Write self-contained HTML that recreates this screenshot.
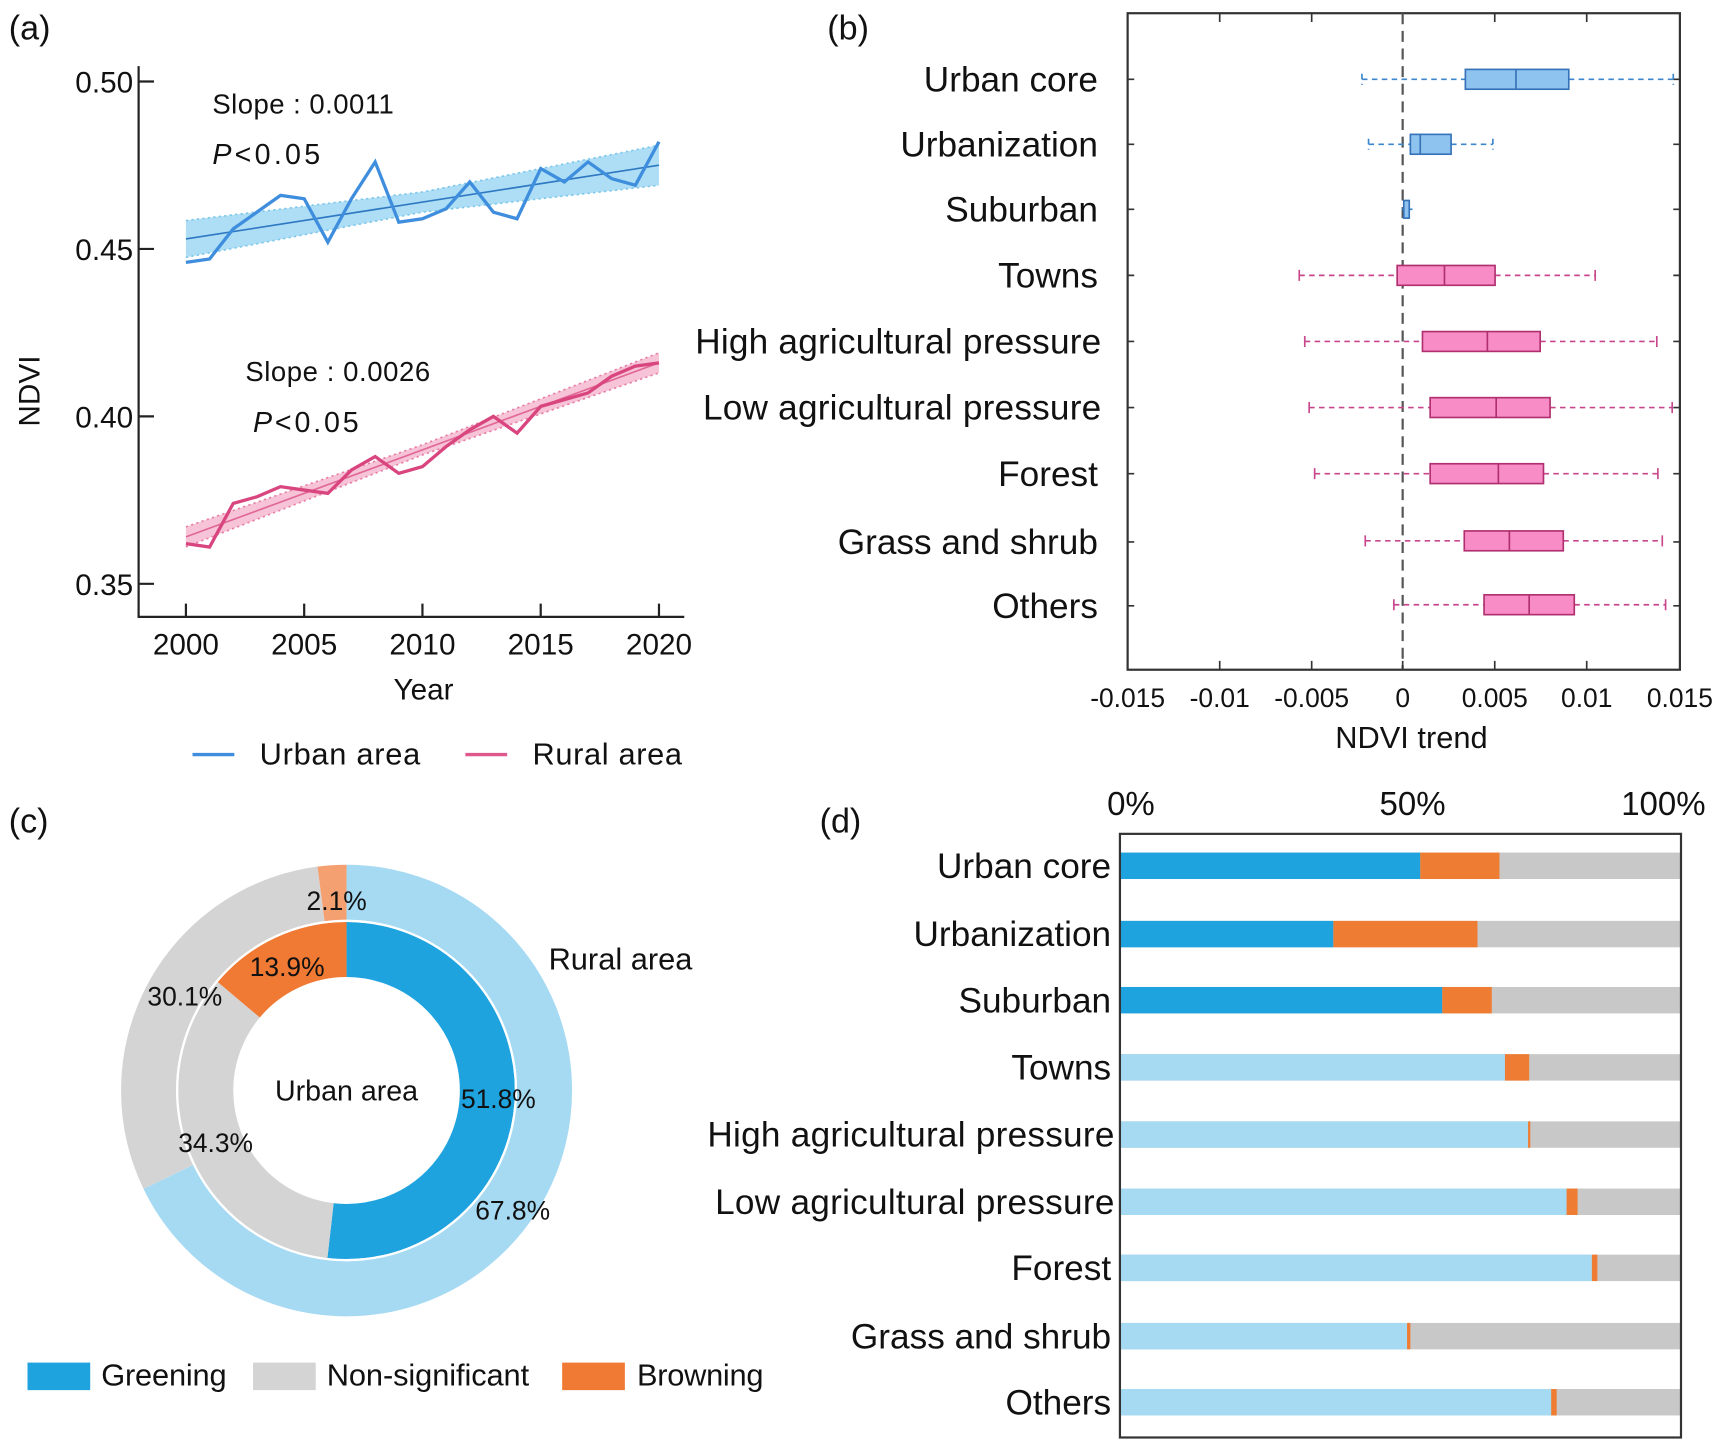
<!DOCTYPE html>
<html><head><meta charset="utf-8"><style>
html,body{margin:0;padding:0;background:#fff}
svg{display:block}
text{font-family:"Liberation Sans",Arial,sans-serif;fill:#111}
</style></head><body>
<svg width="1725" height="1443" viewBox="0 0 1568 1310" preserveAspectRatio="none" xmlns="http://www.w3.org/2000/svg">
<text x="8" y="36" font-size="31">(a)</text>
<text x="752" y="36" font-size="31">(b)</text>
<text x="8" y="756" font-size="31">(c)</text>
<text x="745" y="756" font-size="31">(d)</text>

<g stroke="#222" stroke-width="2" fill="none">
<path d="M126 60 V560 H622"/>
<path d="M126 74 h14 M126 226 h14 M126 378 h14 M126 530 h14"/>
<path d="M169 560 v-12 M276.5 560 v-12 M384 560 v-12 M491.5 560 v-12 M599 560 v-12"/>
</g>
<g font-size="27" text-anchor="end">
<text x="121" y="84">0.50</text><text x="121" y="236">0.45</text><text x="121" y="388">0.40</text><text x="121" y="540">0.35</text>
</g>
<g font-size="27" text-anchor="middle">
<text x="169" y="594">2000</text><text x="276.5" y="594">2005</text><text x="384" y="594">2010</text><text x="491.5" y="594">2015</text><text x="599" y="594">2020</text>
<text x="385" y="635">Year</text>
</g>
<text x="36" y="355" font-size="27" text-anchor="middle" transform="rotate(-90 36 355)">NDVI</text>
<polygon points="169,200.2 384,174.3 599,131.8 599,168.2 384,192.6 169,233.6" fill="#9fd8f3" opacity="0.85"/>
<polyline points="169,200.2 384,174.3 599,131.8" fill="none" stroke="#7cc6ea" stroke-width="1.5" stroke-dasharray="2 3"/>
<polyline points="169,233.6 384,192.6 599,168.2" fill="none" stroke="#7cc6ea" stroke-width="1.5" stroke-dasharray="2 3"/>
<line x1="169" y1="216.9" x2="599" y2="150" stroke="#2f78c2" stroke-width="1.5"/>
<polyline fill="none" stroke="#3f8ede" stroke-width="3" points="169,238.2 190.5,235.1 212,207.8 233.5,192.6 255,177.4 276.5,180.4 298,219.9 319.5,180.4 341,147 362.5,201.7 384,198.6 405.5,189.5 427,165.2 448.5,192.6 470,198.6 491.5,153 513,165.2 534.5,147 556,162.2 577.5,168.2 599,128.7"/>
<polygon points="169,478.3 384,403.8 599,320.3 599,338.5 384,413 169,496.5" fill="#f6b8cf" opacity="0.85"/>
<polyline points="169,478.3 384,403.8 599,320.3" fill="none" stroke="#e77fa6" stroke-width="1.5" stroke-dasharray="2 3"/>
<polyline points="169,496.5 384,413 599,338.5" fill="none" stroke="#e77fa6" stroke-width="1.5" stroke-dasharray="2 3"/>
<line x1="169" y1="487.4" x2="599" y2="329.4" stroke="#e06896" stroke-width="1.5"/>
<polyline fill="none" stroke="#d9457f" stroke-width="3" points="169,493.5 190.5,496.6 212,457 233.5,451 255,441.8 276.5,444.9 298,447.9 319.5,426.6 341,414.5 362.5,429.7 384,423.6 405.5,405.4 427,390.2 448.5,378 470,393.2 491.5,368.9 513,362.8 534.5,356.7 556,341.5 577.5,332.4 599,329.4"/>
<text x="193" y="103" font-size="25" textLength="165">Slope : 0.0011</text>
<text x="193" y="149" font-size="26" textLength="98"><tspan font-style="italic">P</tspan>&lt;0.05</text>
<text x="223" y="346" font-size="25" textLength="168">Slope : 0.0026</text>
<text x="230" y="392" font-size="26" textLength="96"><tspan font-style="italic">P</tspan>&lt;0.05</text>
<line x1="175" y1="685" x2="213" y2="685" stroke="#3f8ede" stroke-width="3"/>
<text x="236" y="694" font-size="28" textLength="146">Urban area</text>
<line x1="423" y1="685" x2="461" y2="685" stroke="#e0578e" stroke-width="3"/>
<text x="484" y="694" font-size="28" textLength="136">Rural area</text>

<rect x="1025" y="12" width="502" height="596" fill="none" stroke="#333" stroke-width="2"/>
<line x1="1275" y1="12" x2="1275" y2="608" stroke="#555" stroke-width="2" stroke-dasharray="10 6"/>
<g stroke="#333" stroke-width="1.5">
<path d="M1025 608 v-8 M1108.7 608 v-8 M1192.3 608 v-8 M1275 608 v-8 M1358.7 608 v-8 M1442.3 608 v-8 M1527 608 v-8"/>
<path d="M1025 72 h6 M1025 131 h6 M1025 190 h6 M1025 250 h6 M1025 310 h6 M1025 370 h6 M1025 430 h6 M1025 492 h6 M1025 550 h6"/>
<path d="M1527 72 h-6 M1527 131 h-6 M1527 190 h-6 M1527 250 h-6 M1527 310 h-6 M1527 370 h-6 M1527 430 h-6 M1527 492 h-6 M1527 550 h-6"/>
<path d="M1108.7 12 v8 M1192.3 12 v8 M1358.7 12 v8 M1442.3 12 v8"/>
</g>
<g font-size="24" text-anchor="middle">
<text x="1025" y="642">-0.015</text><text x="1108.7" y="642">-0.01</text><text x="1192.3" y="642">-0.005</text><text x="1275" y="642">0</text><text x="1358.7" y="642">0.005</text><text x="1442.3" y="642">0.01</text><text x="1527" y="642">0.015</text>
<text x="1283" y="679" font-size="28">NDVI trend</text>
</g>
<g font-size="32" text-anchor="end">
<text x="998" y="83">Urban core</text>
<text x="998" y="142">Urbanization</text>
<text x="998" y="201">Suburban</text>
<text x="998" y="261">Towns</text>
<text x="1001" y="321" textLength="369">High agricultural pressure</text>
<text x="1001" y="381" textLength="362">Low agricultural pressure</text>
<text x="998" y="441">Forest</text>
<text x="998" y="503">Grass and shrub</text>
<text x="998" y="561">Others</text>
</g>
<g stroke="#3b86cc" stroke-width="1.5" fill="none">
<path d="M1238 72 H1332 M1426 72 H1521 M1238 67 v10 M1521 67 v10" stroke-dasharray="5 4"/>
<path d="M1244 131 H1282 M1319 131 H1357 M1244 126 v10 M1357 126 v10" stroke-dasharray="5 4"/>
<path d="M1274 190 H1284"/>
</g>
<g stroke="#3672b8" stroke-width="1.5" fill="#8fc3ef">
<rect x="1332" y="63" width="94" height="18"/><line x1="1378" y1="63" x2="1378" y2="81"/>
<rect x="1282" y="122" width="37" height="18"/><line x1="1291" y1="122" x2="1291" y2="140"/>
<rect x="1276" y="182" width="5" height="16"/>
</g>
<g stroke="#c8478c" stroke-width="1.5" fill="none" stroke-dasharray="5 4">
<path d="M1181 250 H1270 M1359 250 H1450"/>
<path d="M1186 310 H1293 M1400 310 H1506"/>
<path d="M1190 370 H1300 M1409 370 H1520"/>
<path d="M1195 430 H1300 M1403 430 H1507"/>
<path d="M1241 491 H1331 M1421 491 H1511"/>
<path d="M1267 549 H1349 M1431 549 H1514"/>
</g>
<g stroke="#c8478c" stroke-width="1.5">
<path d="M1181 245 v10 M1450 245 v10 M1186 305 v10 M1506 305 v10 M1190 365 v10 M1520 365 v10 M1195 425 v10 M1507 425 v10 M1241 486 v10 M1511 486 v10 M1267 544 v10 M1514 544 v10"/>
</g>
<g stroke="#b0306f" stroke-width="1.5" fill="#f78cc6">
<rect x="1270" y="241" width="89" height="18"/><line x1="1313" y1="241" x2="1313" y2="259"/>
<rect x="1293" y="301" width="107" height="18"/><line x1="1352" y1="301" x2="1352" y2="319"/>
<rect x="1300" y="361" width="109" height="18"/><line x1="1360" y1="361" x2="1360" y2="379"/>
<rect x="1300" y="421" width="103" height="18"/><line x1="1362" y1="421" x2="1362" y2="439"/>
<rect x="1331" y="482" width="90" height="18"/><line x1="1372" y1="482" x2="1372" y2="500"/>
<rect x="1349" y="540" width="82" height="18"/><line x1="1390" y1="540" x2="1390" y2="558"/>
</g>

<g transform="rotate(-90 315 990)" fill="none">
<circle cx="315" cy="990" r="180" stroke="#a6daf3" stroke-width="50" stroke-dasharray="766.8 2000" stroke-dashoffset="0"/>
<circle cx="315" cy="990" r="180" stroke="#d4d4d4" stroke-width="50" stroke-dasharray="340.4 2000" stroke-dashoffset="-766.8"/>
<circle cx="315" cy="990" r="180" stroke="#f4a070" stroke-width="50" stroke-dasharray="23.8 2000" stroke-dashoffset="-1107.2"/>
<circle cx="315" cy="990" r="128" stroke="#1fa3df" stroke-width="50" stroke-dasharray="416.6 2000" stroke-dashoffset="0"/>
<circle cx="315" cy="990" r="128" stroke="#d4d4d4" stroke-width="50" stroke-dasharray="275.8 2000" stroke-dashoffset="-416.6"/>
<circle cx="315" cy="990" r="128" stroke="#f07a33" stroke-width="50" stroke-dasharray="111.8 2000" stroke-dashoffset="-692.4"/>
</g>
<circle cx="315" cy="990" r="154" fill="none" stroke="#fff" stroke-width="2"/>
<g font-size="24" text-anchor="middle">
<text x="306" y="826">2.1%</text>
<text x="261" y="886">13.9%</text>
<text x="168" y="913">30.1%</text>
<text x="564" y="880" font-size="28">Rural area</text>
<text x="315" y="999" font-size="26">Urban area</text>
<text x="453" y="1006">51.8%</text>
<text x="196" y="1046">34.3%</text>
<text x="466" y="1107">67.8%</text>
</g>
<rect x="25" y="1237" width="57" height="25" fill="#1fa3df"/>
<text x="92" y="1258" font-size="28" textLength="114">Greening</text>
<rect x="230" y="1237" width="57" height="25" fill="#d4d4d4"/>
<text x="297" y="1258" font-size="28" textLength="184">Non-significant</text>
<rect x="511" y="1237" width="57" height="25" fill="#f07a33"/>
<text x="579" y="1258" font-size="28" textLength="115">Browning</text>

<g font-size="30" text-anchor="middle">
<text x="1028" y="740">0%</text><text x="1284" y="740">50%</text><text x="1512" y="740">100%</text>
</g>
<g>
<rect x="1018" y="774" width="510" height="24" fill="#c8c8c8"/>
<rect x="1018" y="774" width="273" height="24" fill="#1fa3df"/><rect x="1291" y="774" width="72" height="24" fill="#ee7d33"/>
<rect x="1018" y="836" width="510" height="24" fill="#c8c8c8"/>
<rect x="1018" y="836" width="194" height="24" fill="#1fa3df"/><rect x="1212" y="836" width="131" height="24" fill="#ee7d33"/>
<rect x="1018" y="896" width="510" height="24" fill="#c8c8c8"/>
<rect x="1018" y="896" width="293" height="24" fill="#1fa3df"/><rect x="1311" y="896" width="45" height="24" fill="#ee7d33"/>
<rect x="1018" y="957" width="510" height="24" fill="#c8c8c8"/>
<rect x="1018" y="957" width="350" height="24" fill="#a6daf3"/><rect x="1368" y="957" width="22" height="24" fill="#ee7d33"/>
<rect x="1018" y="1018" width="510" height="24" fill="#c8c8c8"/>
<rect x="1018" y="1018" width="371" height="24" fill="#a6daf3"/><rect x="1389" y="1018" width="2" height="24" fill="#ee7d33"/>
<rect x="1018" y="1079" width="510" height="24" fill="#c8c8c8"/>
<rect x="1018" y="1079" width="406" height="24" fill="#a6daf3"/><rect x="1424" y="1079" width="10" height="24" fill="#ee7d33"/>
<rect x="1018" y="1139" width="510" height="24" fill="#c8c8c8"/>
<rect x="1018" y="1139" width="429" height="24" fill="#a6daf3"/><rect x="1447" y="1139" width="5" height="24" fill="#ee7d33"/>
<rect x="1018" y="1201" width="510" height="24" fill="#c8c8c8"/>
<rect x="1018" y="1201" width="261" height="24" fill="#a6daf3"/><rect x="1279" y="1201" width="3" height="24" fill="#ee7d33"/>
<rect x="1018" y="1261" width="510" height="24" fill="#c8c8c8"/>
<rect x="1018" y="1261" width="392" height="24" fill="#a6daf3"/><rect x="1410" y="1261" width="5" height="24" fill="#ee7d33"/>
</g>
<rect x="1018" y="757" width="510" height="548" fill="none" stroke="#333" stroke-width="2"/>
<g font-size="32" text-anchor="end">
<text x="1010" y="797">Urban core</text>
<text x="1010" y="859">Urbanization</text>
<text x="1010" y="919">Suburban</text>
<text x="1010" y="980">Towns</text>
<text x="1013" y="1041" textLength="370">High agricultural pressure</text>
<text x="1013" y="1102" textLength="363">Low agricultural pressure</text>
<text x="1010" y="1162">Forest</text>
<text x="1010" y="1224">Grass and shrub</text>
<text x="1010" y="1284">Others</text>
</g>
</svg>
</body></html>
